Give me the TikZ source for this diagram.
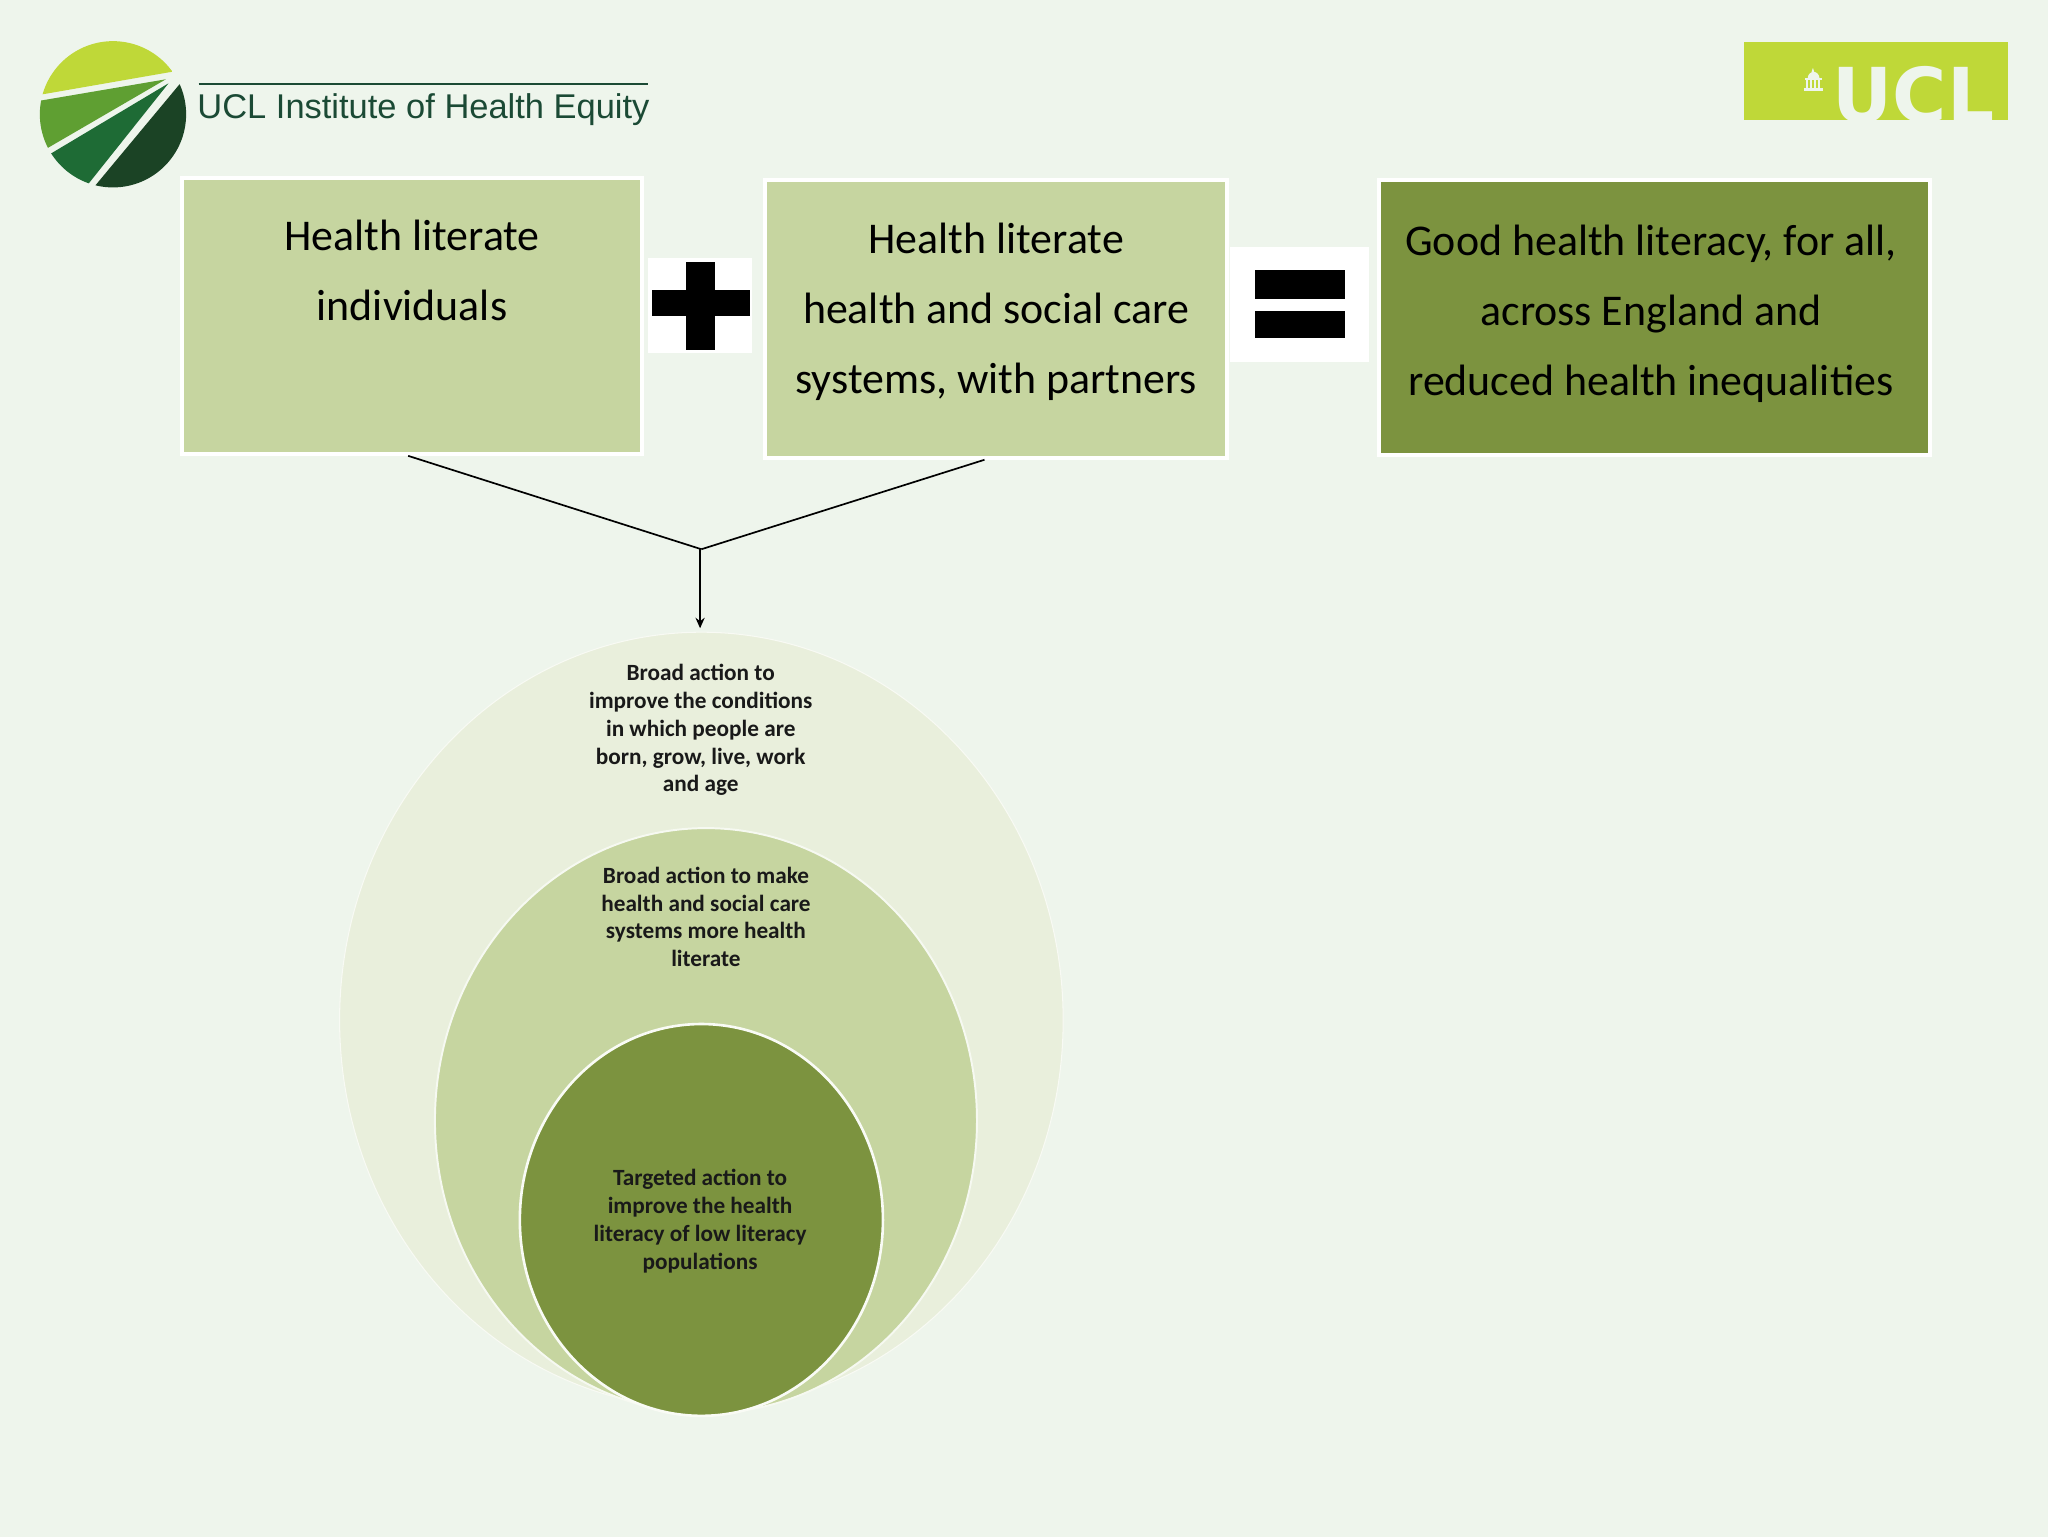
\documentclass[tikz,border=0pt]{standalone}
\usepackage{fontspec}
\setmainfont{Carlito}
\newfontfamily\arialfont{Liberation Sans}
\newfontfamily\uclfont{DejaVu Sans}
\usetikzlibrary{arrows.meta,shapes.geometric}
\definecolor{pagebg}{HTML}{EEF5EC}
\definecolor{palegreen}{HTML}{E9EFDC}
\definecolor{midgreen}{HTML}{C6D5A0}
\definecolor{deepgreen}{HTML}{7C933F}
\definecolor{lime}{HTML}{BFD838}
\definecolor{logotwo}{HTML}{5F9F32}
\definecolor{logothree}{HTML}{1E6B35}
\definecolor{logofour}{HTML}{1B4325}
\definecolor{logotext}{HTML}{1B4A35}
\newcommand\boxbody[4]{\begin{minipage}[t][#2pt][t]{#1pt}\centering\fontsize{33.6}{53.3}\selectfont\vspace*{#3pt}#4\par\end{minipage}}
\tikzset{
  panel/.style={draw=white,line width=3pt,inner sep=0pt,rectangle,anchor=north west,text=black},
  oval/.style={ellipse,inner sep=0pt},
  small/.style={align=center,font=\fontsize{17.8}{21.3}\selectfont\bfseries,text=black!90,inner sep=0pt},
  sym/.style={fill=black,draw=none},
  link/.style={draw=black,line width=1.3pt}
}
\begin{document}
\begin{tikzpicture}[x=1pt,y=-1pt]
\useasboundingbox (0,0) rectangle (1568,1176);
\fill[pagebg] (-3,-3) rectangle (1571,1179);
% IHE logo
\begin{scope}
\clip (86.5,87.5) ellipse [x radius=56,y radius=56];
\fill[lime] (20,74.4) -- (132,54.9) -- (150,20) -- (20,20) -- cycle;
\fill[logotwo] (20,78.9) -- (127,60.7) -- (20,122.9) -- cycle;
\fill[logothree] (20,128.9) -- (129,63.8) -- (60,150.4) -- cycle;
\fill[logofour] (137.4,64.6) -- (160,60) -- (160,160) -- (60,157.6) -- cycle;
\end{scope}
\draw[logotext,line width=1.5pt] (152,64) -- (496,64);
\node[anchor=base west,inner sep=0pt,text=logotext] (ihe) at (151,91) {\resizebox*{346pt}{24.5pt}{\arialfont UCL Institute of Health Equity}};
% UCL logo
\fill[lime] (1335,32) rectangle (1537.5,92);
\node[anchor=base west,inner sep=0pt,text=pagebg] (ucl) at (1403,94) {\resizebox{123.5pt}{43pt}{\uclfont\bfseries UCL}};
\fill[pagebg] (1381,67.5) rectangle (1396,69.5);
\fill[pagebg] (1382,59.5) rectangle (1395,61.5);
\foreach \cx in {1383.5,1386.5,1389.5,1392.5}{\fill[pagebg] (\cx-0.8,61) rectangle (\cx+0.8,68);}
\fill[pagebg] (1384,60) arc [start angle=180,end angle=0,x radius=4.5,y radius=-5] -- cycle;
\fill[pagebg] (1388,52) -- (1389,55) -- (1387,55) -- cycle;
% panels
\node[panel,fill=midgreen] (one) at (138,135) {\boxbody{352}{211}{32}{Health literate\\individuals}};
\node[panel,fill=midgreen] (two) at (584.5,136.5) {\boxbody{353.5}{212.5}{33}{Health literate\\health and social care\\systems, with partners}};
\node[panel,fill=deepgreen] (three) at (1054,136) {\boxbody{422}{211}{35}{\rightskip=5pt plus 1fil Good health literacy, for all,\\across England and\\reduced health inequalities}};
% plus
\fill[white] (496,197.5) rectangle (576,270);
\fill[sym] (499,222) rectangle (574,242);
\fill[sym] (525.5,200.5) rectangle (547.5,268);
% equals
\fill[white] (942,189) rectangle (1048,277);
\fill[sym] (961,207) rectangle (1030,229);
\fill[sym] (961,238) rectangle (1030,259);
% ovals
\node[oval,fill=palegreen,draw=white!70!palegreen,line width=0.8pt,minimum width=554pt,minimum height=594pt] (outer) at (537,781) {};
\node[oval,fill=midgreen,draw=palegreen!40!white,line width=1.5pt,minimum width=415pt,minimum height=448pt] (middle) at (540.5,858) {};
\node[oval,fill=deepgreen,draw=white!90!midgreen,line width=2pt,minimum width=278pt,minimum height=300pt] (inner) at (537,934) {};
\node[small] (outertext) at (536.5,559) {Broad action to\\improve the conditions\\in which people are\\born, grow, live, work\\and age};
\node[small] (middletext) at (540.5,702) {Broad action to make\\health and social care\\systems more health\\literate};
\node[small] (innertext) at (536,935) {Targeted action to\\improve the health\\literacy of low literacy\\populations};
% connectors
\coordinate (fork) at (537,420.5);
\coordinate (stem) at (536,420.5);
\coordinate (tip) at (536,481);
\draw[link] ([xshift=-3pt]one.south) -- (fork);
\draw[link] ([xshift=-9pt]two.south) -- (fork);
\draw[link,-{Stealth[length=8pt,width=7pt]}] (stem) -- (tip);
\end{tikzpicture}
\end{document}
